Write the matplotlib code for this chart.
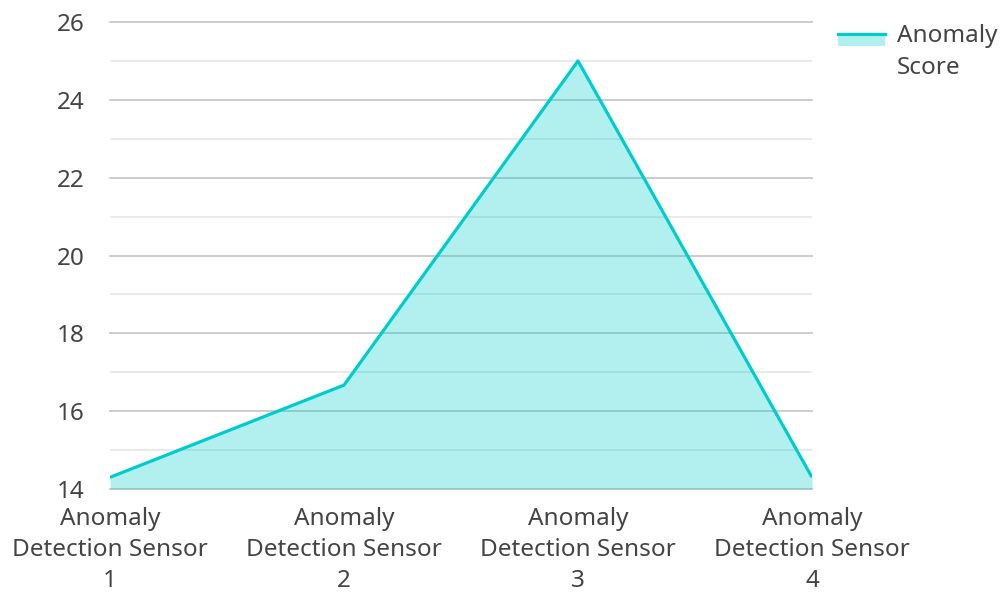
import matplotlib
matplotlib.use('Agg')
import matplotlib.pyplot as plt
from matplotlib.patches import Rectangle
from matplotlib.lines import Line2D
import numpy as np

plt.rcParams['font.family'] = ['Noto Sans', 'DejaVu Sans']

sensores = ['Anomaly\nDetection Sensor\n1', 'Anomaly\nDetection Sensor\n2',
            'Anomaly\nDetection Sensor\n3', 'Anomaly\nDetection Sensor\n4']
anomaly_score = [14.3, 16.67, 25.0, 14.3]
serie_nome = 'Anomaly\nScore'

cor_linha = '#00cccc'
cor_texto = '#444444'
tam = 17.5

fig = plt.figure(figsize=(10.02, 5.92), dpi=100)
ax = fig.add_axes([0.1098, 0.174, 0.7006, 0.7888])

x = np.arange(len(sensores))
ax.fill_between(x, 14, anomaly_score, color=cor_linha, alpha=0.3, linewidth=0, zorder=3)
ax.plot(x, anomaly_score, color=cor_linha, linewidth=2.3, zorder=4, solid_capstyle='butt')

ax.set_xlim(0, len(sensores) - 1)
ax.set_ylim(14, 26)
ax.set_yticks(np.arange(14, 27, 2))
ax.set_yticks(np.arange(15, 26, 2), minor=True)
ax.grid(True, which='major', axis='y', color='#c8c8c8', linewidth=1.3, zorder=1)
ax.grid(True, which='minor', axis='y', color='#e8e8e8', linewidth=1.3, zorder=1)
ax.set_axisbelow(True)
for gl in ax.yaxis.get_gridlines():
    gl.set_clip_on(False)

ax.set_xticks(x)
ax.set_xticklabels(sensores, linespacing=1.38)
ax.tick_params(axis='x', length=0, pad=13, labelsize=tam, labelcolor=cor_texto)
ax.tick_params(axis='y', which='both', length=0, pad=18, labelsize=tam, labelcolor=cor_texto)
for s in ax.spines.values():
    s.set_visible(False)

# legenda manual
fig.add_artist(Rectangle((838 / 1002, 1 - 46 / 592), 47 / 1002, 13 / 592,
                         transform=fig.transFigure, color=cor_linha, alpha=0.3, linewidth=0))
fig.add_artist(Line2D([838 / 1002, 885 / 1002], [1 - 34 / 592, 1 - 34 / 592],
                      transform=fig.transFigure, color=cor_linha, linewidth=2.3))
fig.text(897 / 1002, 1 - 24 / 592, serie_nome, fontsize=tam, color=cor_texto,
         va='top', ha='left', linespacing=1.45)

fig.savefig('out.png', dpi=100)
